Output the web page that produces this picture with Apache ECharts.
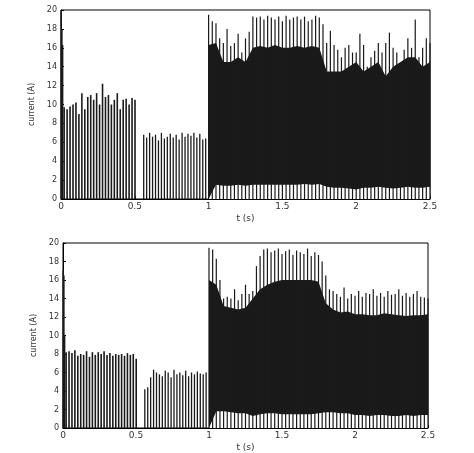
<!DOCTYPE html>
<html><head><meta charset="utf-8">
<script src="https://cdn.jsdelivr.net/npm/echarts@6/dist/echarts.min.js"></script>
<style>html,body{margin:0;background:#fff}#c{width:474px;height:453px}</style>
</head><body><div id="c"></div>
<script>
// ---- Plot 1 data ----
const p1StartT = [0, 0.005, 0.01];
const p1StartV = [20, 18, 16.3];
const p1PulseA = [9.7,9.5,9.8,10,10.2,9,11.2,9.5,10.8,11,10.5,11.2,10,12.2,10.8,11,10,10.5,11.2,9.5,10.5,10.6,10,10.7,10.5]; // 0.02..0.50 step 0.02
const p1PulseB = [6.8,6.5,7,6.6,6.8,6.2,7,6.4,6.6,6.9,6.5,6.8,6.3,7,6.6,6.9,6.7,7,6.5,6.9,6.3,6.4]; // 0.56..0.98
const p1BodyUp = [16.3,16.5,14.5,14.5,15,14.5,16,16.2,16,16.3,16,16,16.2,16,16.2,16,13.5,13.5,13.5,14,14.5,13.5,14,14.5,13,14,14.5,15,15,14,14.5];
const p1BodyLo = [0,1.5,1.4,1.4,1.5,1.4,1.5,1.5,1.5,1.5,1.5,1.5,1.5,1.6,1.5,1.6,1.3,1.2,1.2,1.1,1.0,1.2,1.2,1.3,1.2,1.1,1.2,1.3,1.2,1.2,1.3];
const p1Spikes = [19.5,18.8,18.6,17,16.5,18,16.2,16.5,17.5,15.5,17,17.7,19.3,19.2,19.3,19,19.4,19.2,19,19.3,18.8,19.4,19,19.2,19.3,19,19.3,18.8,19,19.4,19.2,18.5,16.5,17.8,16.3,15.8,15,16,16.3,15.5,15.5,17.5,16.3,14,15,15.7,16.5,15.5,16.5,17.6,16,15.5,14,15.8,17,16,19,15,16,17,16.5];
// ---- Plot 2 data ----
const p2StartT = [0, 0.005, 0.01];
const p2StartV = [17, 16.5, 10];
const p2PulseA = [8.2,8.3,8.1,8.4,7.8,8,7.9,8.3,7.7,8.2,7.9,8.2,8,8.3,7.9,8.1,7.8,8,7.9,8,7.8,8.1,7.9,8,7.5];
const p2PulseB = [4.2,4.4,5.5,6.3,6,5.8,5.6,6.2,6,5.5,6.3,5.8,6,5.7,6.2,5.6,6,5.8,6.1,5.9,5.8,6];
const p2BodyUp = [16,15.5,13.2,13,12.8,13,14,15,15.5,15.8,16,16,16,16,16,15.8,13.5,12.8,12.5,12.6,12.3,12.3,12.2,12.2,12.4,12.3,12.2,12.1,12.2,12.2,12.3];
const p2BodyLo = [0,1.8,1.8,1.7,1.6,1.6,1.3,1.5,1.6,1.6,1.5,1.5,1.5,1.5,1.5,1.6,1.7,1.7,1.6,1.6,1.4,1.4,1.3,1.4,1.4,1.3,1.3,1.4,1.3,1.4,1.4];
const p2Spikes = [19.5,19.3,18.3,16,14,14.2,14,15,13.8,14.5,15.5,14.5,14.8,17.5,18.6,19.3,19.4,19,19.2,19.4,18.8,19.1,19.3,18.7,19.2,19,18.8,19.4,18.6,19,18.7,18,16.5,15,14.8,14.5,14.2,15.2,14,14.5,14.3,14.8,14.2,14.6,14.5,15,14.3,14.6,14.2,14.8,14.4,14.5,15,14.3,14.6,14.2,14.5,14.8,14.2,14.1,14];

function seqT(start, step, n){const r=[];for(let i=0;i<n;i++)r.push(+(start+i*step).toFixed(4));return r;}
function pairs(ts, vs){return vs.map((v,i)=>[ts[i],v]);}
const tA = seqT(0.02,0.02,25), tB = seqT(0.56,0.02,22), tBody = seqT(1.0,0.05,31), tSp = seqT(1.0,0.025,61);

const black='#1a1a1a';
function axes(gi){
  return {
    x:{type:'value',gridIndex:gi,min:0,max:2.5,interval:0.5,name:'t (s)',nameLocation:'middle',nameGap:15,
      nameTextStyle:{fontSize:9,color:'#333'},axisLine:{lineStyle:{color:'#000'}},axisTick:{inside:true,length:3,lineStyle:{color:'#000'}},
      axisLabel:{fontSize:9,color:'#333',margin:3,formatter:v=>String(v)},splitLine:{show:false}},
    y:{type:'value',gridIndex:gi,min:0,max:20,interval:2,name:'current (A)',nameLocation:'middle',nameGap:22,
      nameTextStyle:{fontSize:8,color:'#333'},axisLine:{lineStyle:{color:'#000'}},axisTick:{inside:true,length:3,lineStyle:{color:'#000'}},
      axisLabel:{fontSize:8,color:'#333',margin:4},splitLine:{show:false}}
  };
}
function seriesFor(gi, sT, sV, pa, pb, up, lo, sp){
  const s = {xAxisIndex:gi,yAxisIndex:gi,silent:true,animation:false};
  return [
    Object.assign({type:'line',z:1,data:pairs(tBody,up),symbol:'none',lineStyle:{width:0},areaStyle:{color:black,opacity:1}},s),
    Object.assign({type:'line',z:2,data:pairs(tBody,lo),symbol:'none',lineStyle:{width:0},areaStyle:{color:'#fff',opacity:1}},s),
    Object.assign({type:'bar',z:3,data:pairs(sT,sV),barWidth:1.5,itemStyle:{color:black},barGap:'-100%'},s),
    Object.assign({type:'bar',z:3,data:pairs(tA,pa),barWidth:1.6,itemStyle:{color:black},barGap:'-100%'},s),
    Object.assign({type:'bar',z:3,data:pairs(tB,pb),barWidth:1.3,itemStyle:{color:black},barGap:'-100%'},s),
    Object.assign({type:'bar',z:3,data:pairs(tSp,sp),barWidth:1.2,itemStyle:{color:black},barGap:'-100%'},s)
  ];
}
const a0=axes(0), a1=axes(1);
const chart = echarts.init(document.getElementById('c'));
chart.setOption({
  animation:false,
  textStyle:{fontFamily:'DejaVu Sans'},
  grid:[{left:61,right:44,top:10,height:189,show:true,borderColor:'#000',borderWidth:1},
        {left:63,right:46,top:243,height:189,show:true,borderColor:'#000',borderWidth:1}],
  xAxis:[a0.x,a1.x], yAxis:[a0.y,a1.y],
  series:[...seriesFor(0,p1StartT,p1StartV,p1PulseA,p1PulseB,p1BodyUp,p1BodyLo,p1Spikes),
          ...seriesFor(1,p2StartT,p2StartV,p2PulseA,p2PulseB,p2BodyUp,p2BodyLo,p2Spikes)]
});
</script></body></html>
